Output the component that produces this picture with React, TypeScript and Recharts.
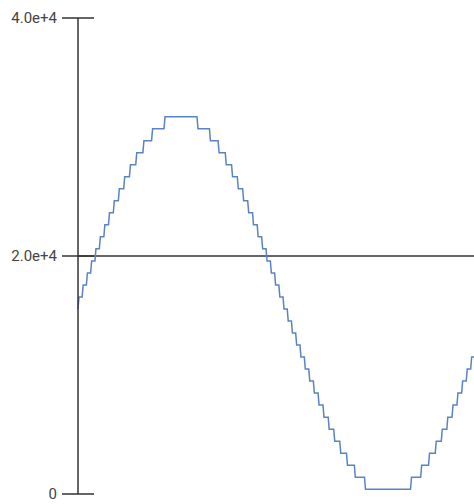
import { LineChart, Line, XAxis, YAxis, ReferenceLine } from 'recharts';

// where each flat stretch of the quantised wave begins (sample index)
const stepStart = [
  0, 0.96, 5.16, 9.38, 13.64, 17.95, 22.35, 26.85, 31.49, 36.31, 41.35, 46.69,
  52.44, 58.74, 65.91, 74.58, 87.01, 119.99, 132.42, 141.09, 148.26, 154.56,
  160.31, 165.65, 170.69, 175.51, 180.15, 184.65, 189.05, 193.36, 197.62,
  201.84, 206.04, 210.23, 214.43, 218.67, 222.96, 227.31, 231.76, 236.34,
  241.06, 246.0, 251.19, 256.73, 262.75, 269.48, 277.33, 287.48, 333.52,
  343.67, 351.52, 358.25, 364.27, 369.81, 375.0, 379.94, 384.66, 389.24, 393.69,
];

// value held on each stretch
const stepValue = [
  15550, 16560, 17570, 18580, 19590, 20600, 21610, 22620, 23630, 24640, 25650,
  26660, 27670, 28680, 29690, 30700, 31710, 30700, 29690, 28680, 27670, 26660,
  25650, 24640, 23630, 22620, 21610, 20600, 19590, 18580, 17570, 16560, 15550,
  14540, 13530, 12520, 11510, 10500, 9490, 8480, 7470, 6460, 5450, 4440, 3430,
  2420, 1410, 400, 1410, 2420, 3430, 4440, 5450, 6460, 7470, 8480, 9490, 10500,
  11510,
];

const LAST_SAMPLE = 396;
const yTicks = [0, 20000, 40000];
const midLine = 20000;

const AXIS = '#333';
const WAVE = '#5a83c5';

const data = stepStart.flatMap((t, i) => {
  const last = i === stepStart.length - 1;
  const end = last ? LAST_SAMPLE : Math.max(t, stepStart[i + 1] - 1);
  return [
    { t, v: stepValue[i] },
    { t: end, v: stepValue[i] },
  ];
});

const fmt = (v: number) => (v === 0 ? '0' : v.toExponential(1));

function YTick({ x, y, payload }: { x?: number; y?: number; payload?: { value: number } }) {
  if (x == null || y == null || !payload) return null;
  return (
    <g>
      <line x1={x - 16} x2={x + 16} y1={y} y2={y} stroke={AXIS} strokeWidth={1.5} />
      <text
        x={x - 21}
        y={y}
        dy="0.35em"
        textAnchor="end"
        fontSize={15}
        fill="#444"
        fontFamily="Roboto, sans-serif"
      >
        {fmt(payload.value)}
      </text>
    </g>
  );
}

export default function App() {
  return (
    <div style={{ position: 'absolute', left: 0, top: 0, width: 474, height: 504 }}>
      <LineChart width={474} height={504} data={data} margin={{ top: 18, right: 0, bottom: 10, left: 0 }}>
        <XAxis dataKey="t" type="number" domain={[0, LAST_SAMPLE]} hide />
        <YAxis
          domain={[0, 40000]}
          ticks={yTicks}
          width={78}
          tickSize={0}
          tickMargin={0}
          tickLine={false}
          axisLine={{ stroke: AXIS, strokeWidth: 1.5 }}
          tick={<YTick />}
        />
        <ReferenceLine y={midLine} stroke={AXIS} strokeWidth={1.5} />
        <Line
          type="linear"
          dataKey="v"
          stroke={WAVE}
          strokeWidth={1.5}
          dot={false}
          isAnimationActive={false}
        />
      </LineChart>
    </div>
  );
}
